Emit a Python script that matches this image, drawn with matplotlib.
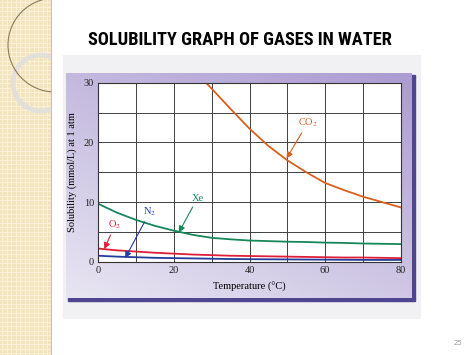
"""Solubility graph of gases in water, slide-style recreation."""

import matplotlib
matplotlib.use("Agg")
import matplotlib.pyplot as plt
import numpy as np
from matplotlib.patches import Rectangle, Circle

W, H = 474, 355

# data (mmol/L at 1 atm)
temps = [0, 5, 10, 15, 20, 25, 30, 35, 40, 45, 50, 55, 60, 65, 70, 75, 80]
xe = [9.7, 8.2, 7.0, 6.0, 5.2, 4.5, 4.0, 3.75, 3.55, 3.45, 3.35, 3.3, 3.2, 3.15, 3.05, 3.0, 2.95]
o2 = [2.2, 1.9, 1.7, 1.5, 1.35, 1.2, 1.1, 1.0, 0.95, 0.9, 0.85, 0.8, 0.75, 0.7, 0.7, 0.65, 0.6]
n2 = [1.0, 0.85, 0.75, 0.65, 0.6, 0.55, 0.5, 0.45, 0.42, 0.4, 0.38, 0.36, 0.34, 0.32, 0.3, 0.3, 0.3]
co2_temps = [28.5, 30, 35, 40, 45, 50, 55, 60, 65, 70, 75, 80]
co2 = [30.0, 29.0, 25.6, 22.3, 19.4, 17.0, 15.0, 13.2, 12.0, 10.9, 10.0, 9.1]

x_ticks = [0, 20, 40, 60, 80]
y_ticks = [0, 10, 20, 30]

CO2_C = "#d8601c"
XE_C = "#15875a"
O2_C = "#e01e38"
N2_C = "#243d9c"

plt.rcParams["mathtext.fontset"] = "stix"
SERIF = ["Liberation Serif", "DejaVu Serif"]
TITLE_FONTS = ["Roboto Condensed", "Noto Sans Condensed", "Open Sans Condensed",
               "Liberation Sans Narrow", "Liberation Serif"]


def fx(px):
    return px / W


def fy(py):
    return 1 - py / H


fig = plt.figure(figsize=(W / 100, H / 100), dpi=100, facecolor="white")

# beige side bar
side = fig.add_axes([0, 0, fx(52), 1])
side.set_xlim(0, 52)
side.set_ylim(H, 0)
side.axis("off")
side.add_patch(Rectangle((0, 0), 52, H, color="#f2e4bd", zorder=0))
for v in np.arange(2, 52, 4.5):
    side.axvline(v, color="#fbf3dc", lw=0.6, zorder=1)
for v in np.arange(2, H, 4.5):
    side.axhline(v, color="#fbf3dc", lw=0.6, zorder=1)
side.add_patch(Circle((41, 83), 28, fill=False, ec="#e2e0d8", lw=3.5, zorder=2))
side.add_patch(Circle((55, 45), 47, fill=False, ec="#8c7b58", lw=0.8, zorder=3))
side.axvline(51.5, color="#cdbb8f", lw=1.2, zorder=4)

# light grey frame and purple panel shadow
fig.patches.append(Rectangle((fx(63), fy(318)), fx(420 - 63), (318 - 55) / H,
                             transform=fig.transFigure, color="#f1f1f3", zorder=-2))
fig.patches.append(Rectangle((fx(68), fy(300.5)), fx(414.5 - 68), (300.5 - 75) / H,
                             transform=fig.transFigure, color="#4f4590", zorder=-1))

panel = fig.add_axes([fx(66), fy(298), fx(411.5 - 66), (298 - 73) / H])
panel.set_zorder(1)
panel.axis("off")
gx = np.linspace(0, 1, 200)
gy = np.linspace(0, 1, 120)
GX, GY = np.meshgrid(gx, gy)
t = np.clip(0.4 * GX + 0.6 * GY, 0, 1)
c0 = np.array([0.91, 0.90, 0.95])
c1 = np.array([0.67, 0.61, 0.82])
img = c0[None, None, :] * (1 - t[..., None]) + c1[None, None, :] * t[..., None]
panel.imshow(img, origin="lower", aspect="auto", extent=[0, 1, 0, 1])

# main chart
ax = fig.add_axes([fx(98.3), fy(261.7), fx(400.7 - 98.3), (261.7 - 82.7) / H])
ax.set_zorder(2)
ax.set_facecolor("white")
ax.set_xlim(0, 80)
ax.set_ylim(0, 30)
ax.set_xticks(np.arange(0, 81, 10))
ax.set_yticks(np.arange(0, 31, 5))
ax.grid(True, color="#3f3f3f", lw=0.7)
ax.set_xticklabels([str(v) if v in x_ticks else "" for v in range(0, 81, 10)],
                   family=SERIF, fontsize=7.5)
ax.set_yticklabels([str(v) if v in y_ticks else "" for v in range(0, 31, 5)],
                   family=SERIF, fontsize=7.5)
ax.tick_params(length=0, pad=3, colors="#222222")
for s in ax.spines.values():
    s.set_color("#333333")
    s.set_linewidth(0.8)

ax.plot(co2_temps, co2, color=CO2_C, lw=1.3)
ax.plot(temps, xe, color=XE_C, lw=1.3)
ax.plot(temps, o2, color=O2_C, lw=1.3)
ax.plot(temps, n2, color=N2_C, lw=1.3)

ax.set_xlabel("Temperature (°C)", family=SERIF, fontsize=7.5, labelpad=5)
ax.set_ylabel("Solubility (mmol/L) at 1 atm", family=SERIF, fontsize=7.5, labelpad=5)


def label(txt, xy, xytext, color):
    ax.annotate(txt, xy=xy, xytext=xytext, color=color, family=SERIF, fontsize=7.5,
                ha="center", va="center",
                arrowprops=dict(arrowstyle="-|>,head_length=0.5,head_width=0.25",
                                color=color, lw=0.8, shrinkA=1, shrinkB=0))


label(r"CO$_2$", (49.8, 17.3), (55.4, 23.3), CO2_C)
label("Xe", (21.3, 4.9), (26.2, 10.6), XE_C)
label(r"N$_2$", (7.1, 0.6), (13.7, 8.4), N2_C)
label(r"O$_2$", (1.6, 2.1), (4.4, 6.2), O2_C)

fig.text(fx(240), fy(40), "SOLUBILITY GRAPH OF GASES IN WATER",
         family=TITLE_FONTS, fontweight="black",
         fontsize=13.2, ha="center", va="center", color="black")
fig.text(fx(458), fy(343), "25", fontsize=5, color="#9a9a9a", ha="center", va="center")

fig.savefig("out.png", dpi=100, facecolor="white")
